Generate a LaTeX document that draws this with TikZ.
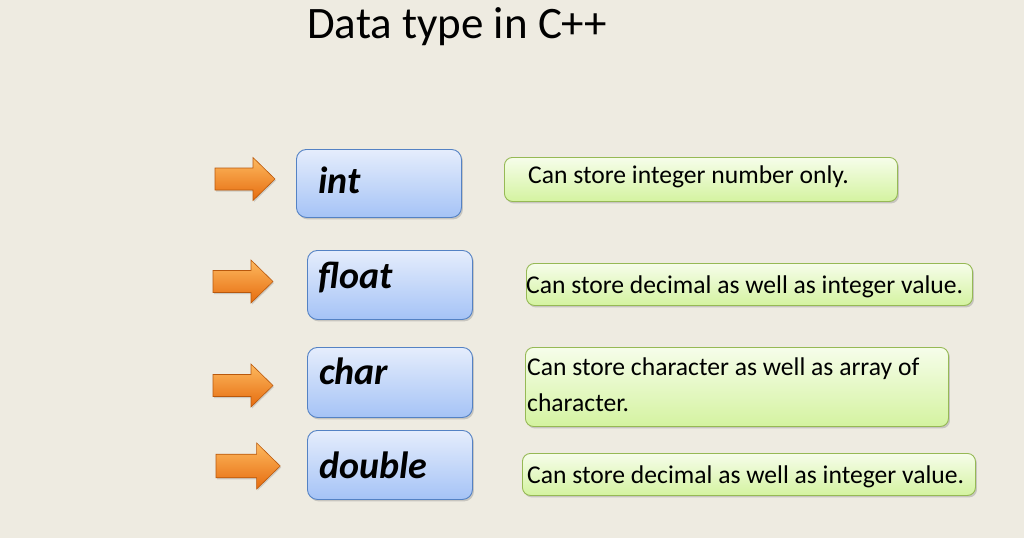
\documentclass[tikz,border=0pt]{standalone}
\usepackage{fontspec}
\setmainfont{Carlito}
\usetikzlibrary{shadows}
\definecolor{bg}{RGB}{238,235,225}
\definecolor{bluetop}{RGB}{229,237,252}
\definecolor{bluebot}{RGB}{165,195,246}
\definecolor{blueline}{RGB}{84,130,196}
\definecolor{greentop}{RGB}{246,253,234}
\definecolor{greenbot}{RGB}{212,243,160}
\definecolor{greenline}{RGB}{150,185,85}
\definecolor{orangetop}{RGB}{253,185,95}
\definecolor{orangebot}{RGB}{230,108,15}
\definecolor{orangeline}{RGB}{185,88,12}
\tikzset{
  typebox/.style={draw=blueline, line width=0.9pt, rounded corners=10pt,
    top color=bluetop, bottom color=bluebot, anchor=north west, inner sep=0pt,
    drop shadow={opacity=0.35, shadow xshift=1.5pt, shadow yshift=-2pt}},
  descbox/.style={draw=greenline, line width=0.9pt, rounded corners=8pt,
    top color=greentop, bottom color=greenbot, anchor=north west, inner sep=0pt,
    drop shadow={opacity=0.35, shadow xshift=1.5pt, shadow yshift=-2pt}},
  typetext/.style={anchor=base west, inner sep=0pt,
    font=\fontsize{38}{40}\selectfont\bfseries\itshape},
  desctext/.style={anchor=base west, inner sep=0pt, align=left,
    font=\fontsize{25.6}{36}\selectfont},
  blockarrow/.pic={
    \path[draw=orangeline, line width=0.6pt, top color=orangetop, bottom color=orangebot,
      drop shadow={opacity=0.3, shadow xshift=1pt, shadow yshift=-1.5pt}]
      (0,-11) -- (38,-11) -- (38,-21.5) -- (60,0) -- (38,21.5) -- (38,11) -- (0,11) -- cycle;
  }
}
\begin{document}
\begin{tikzpicture}[x=1pt,y=-1pt]
\fill[bg] (0,0) rectangle (1024,538);
\useasboundingbox (0,0) rectangle (1024,538);

\node[anchor=base west, inner sep=0pt, font=\fontsize{45}{48}\selectfont] (title) at (307,38) {Data type in C++};

% arrows
\pic (a1) at (215,179) {blockarrow};
\pic (a2) at (213,281.5) {blockarrow};
\pic (a3) at (213,385.5) {blockarrow};
\pic[scale=1.07] (a4) at (216,466) {blockarrow};

% type boxes
\node[typebox, minimum width=165pt, minimum height=68pt] (tint) at (296,149) {};
\node[typebox, minimum width=165pt, minimum height=69pt] (tfloat) at (307,250) {};
\node[typebox, minimum width=165pt, minimum height=70pt] (tchar) at (307,347) {};
\node[typebox, minimum width=165pt, minimum height=69pt] (tdouble) at (307,430) {};

\node[typetext] (lint) at (318,193) {int};
\node[typetext] (lfloat) at (318,288) {float};
\node[typetext] (lchar) at (319,384) {char};
\node[typetext] (ldouble) at (319,478) {double};

% description boxes
\node[descbox, minimum width=393pt, minimum height=44pt] (dint) at (504,157) {};
\node[descbox, minimum width=446pt, minimum height=42pt] (dfloat) at (526,263) {};
\node[descbox, minimum width=423pt, minimum height=79pt] (dchar) at (525,347) {};
\node[descbox, minimum width=453pt, minimum height=42pt] (ddouble) at (522,453) {};

\node[desctext] (tdint) at (528,183) {Can store integer number only.};
\node[desctext] (tdfloat) at (526,293) {Can store decimal as well as integer value.};
\node[desctext] (tdchar) at (527,411) {Can store character as well as array of\\character.};
\node[desctext] (tddouble) at (527,483) {Can store decimal as well as integer value.};
\end{tikzpicture}
\end{document}
